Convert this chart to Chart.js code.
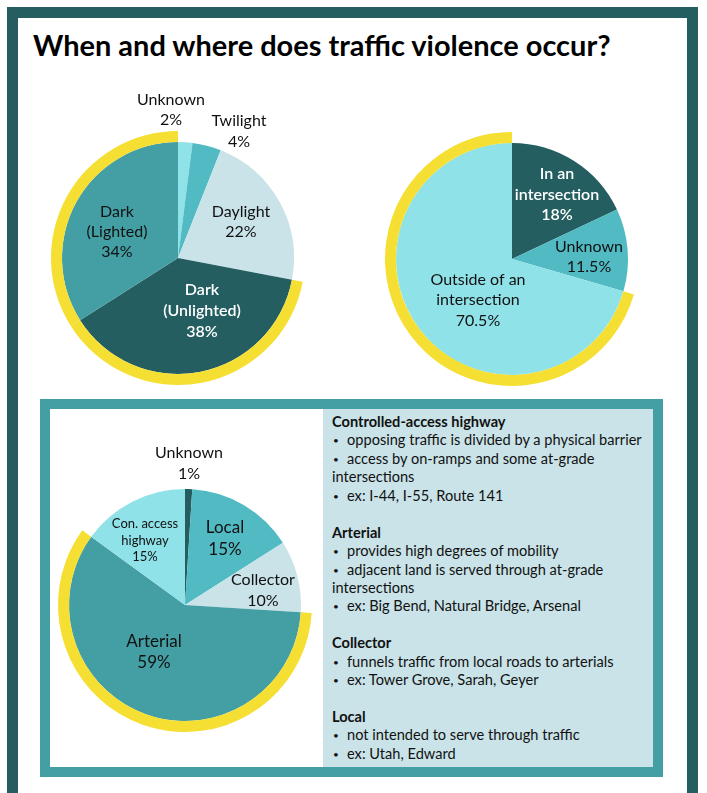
<!DOCTYPE html>
<html>
<head>
<meta charset="utf-8">
<script src="https://cdn.jsdelivr.net/npm/chart.js@4/dist/chart.umd.min.js"></script>
<style>
  html, body { margin: 0; padding: 0; background: #fff; width: 707px; height: 793px; overflow: hidden; }
  body { position: relative; font-family: Lato, "Open Sans", sans-serif; color: #111; }
  .frame { position: absolute; left: 7px; top: 7px; width: 669px; height: 820px; border: 11px solid #245E60; border-bottom: none; }
  .title { position: absolute; left: 33px; top: 30px; font-weight: bold; font-size: 28px; line-height: 28px; white-space: nowrap; color: #000; }
  .panel { position: absolute; left: 40px; top: 399px; width: 603px; height: 358px; border: 10px solid #449FA4; background: #fff; }
  .notes { position: absolute; left: 323px; top: 409px; width: 330px; height: 358px; background: #C9E3E8; }
  .txt { position: absolute; left: 332px; top: 413px; font-size: 14.6px; line-height: 18.44px; color: #111; white-space: nowrap; }
  .txt .h { font-weight: bold; }
  .txt .dot { display: inline-block; width: 14px; padding-left: 1px; font-size: 10px; vertical-align: 1px; }
  canvas { position: absolute; }
</style>
</head>
<body>
<div class="frame"></div>
<div class="title" id="title">When and where does traffic violence occur?</div>
<div class="panel"></div>
<div class="notes"></div>
<div class="txt">
  <div class="h">Controlled-access highway</div>
  <div><span class="dot">•</span>opposing traffic is divided by a physical barrier</div>
  <div><span class="dot">•</span>access by on-ramps and some at-grade</div>
  <div>intersections</div>
  <div><span class="dot">•</span>ex: I-44, I-55, Route 141</div>
  <div>&nbsp;</div>
  <div class="h">Arterial</div>
  <div><span class="dot">•</span>provides high degrees of mobility</div>
  <div><span class="dot">•</span>adjacent land is served through at-grade</div>
  <div>intersections</div>
  <div><span class="dot">•</span>ex: Big Bend, Natural Bridge, Arsenal</div>
  <div>&nbsp;</div>
  <div class="h">Collector</div>
  <div><span class="dot">•</span>funnels traffic from local roads to arterials</div>
  <div><span class="dot">•</span>ex: Tower Grove, Sarah, Geyer</div>
  <div>&nbsp;</div>
  <div class="h">Local</div>
  <div><span class="dot">•</span>not intended to serve through traffic</div>
  <div><span class="dot">•</span>ex: Utah, Edward</div>
</div>
<canvas id="c1" width="330" height="330" style="left:13px;top:93px"></canvas>
<canvas id="c2" width="330" height="330" style="left:347px;top:94px"></canvas>
<canvas id="c3" width="330" height="330" style="left:20px;top:440px"></canvas>
<script>
// ---------- DATA ----------
const lightCategories = ["Unknown", "Twilight", "Daylight", "Dark\n(Unlighted)", "Dark\n(Lighted)"];
const lightValues = [2, 4, 22, 38, 34];
const lightHighlight = [false, false, false, true, true];

const locationCategories = ["In an\nintersection", "Unknown", "Outside of an\nintersection"];
const locationValues = [18, 11.5, 70.5];
const locationHighlight = [false, false, true];

const roadCategories = ["Unknown", "Local", "Collector", "Arterial", "Con. access\nhighway"];
const roadValues = [1, 15, 10, 59, 15];
const roadHighlight = [false, false, false, true, false];

// ---------- STYLE ----------
const DARK = "#245E60", TEAL = "#449FA4", TURQ = "#51BAC2", CYAN = "#8FE2E8", PALE = "#C9E3E8", YELLOW = "#F5DF33";
const lightColors = [CYAN, TURQ, PALE, DARK, TEAL];
const locationColors = [DARK, TURQ, CYAN];
const roadColors = [DARK, TURQ, PALE, TEAL, CYAN];

// label offsets from pie centre (px), text colour, font
const lightLabelLayout = [
  {dx: -7, dy: -148.5, color: "#111", size: 16, lh: 20},
  {dx: 61, dy: -126.5, color: "#111", size: 16, lh: 21},
  {dx: 63, dy: -36, color: "#111", size: 16, lh: 20},
  {dx: 24, dy: 53, color: "#fff", size: 16, lh: 21, weight: 600},
  {dx: -61, dy: -26, color: "#111", size: 16, lh: 20}
];
const locationLabelLayout = [
  {dx: 45, dy: -64.5, color: "#fff", size: 16, lh: 20.5, weight: 600},
  {dx: 77, dy: -2, color: "#111", size: 16, lh: 20},
  {dx: -34, dy: 41, color: "#111", size: 16, lh: 20.5}
];
const roadLabelLayout = [
  {dx: 4, dy: -141.5, color: "#111", size: 16, lh: 21},
  {dx: 40, dy: -66, color: "#111", size: 17, lh: 22},
  {dx: 78, dy: -14.5, color: "#111", size: 16, lh: 21},
  {dx: -31, dy: 47.5, color: "#111", size: 17, lh: 21},
  {dx: -40, dy: -64.5, color: "#111", size: 13, lh: 16.5}
];

// fit title to reference width
(function(){
  const t = document.getElementById('title');
  const c = document.createElement('canvas').getContext('2d');
  c.font = 'bold 100px Lato';
  const w = c.measureText(t.textContent).width;
  const fs = 100 * 579 / w;
  t.style.fontSize = fs + 'px';
  t.style.lineHeight = fs + 'px';
  t.style.top = (57 - 0.887 * fs) + 'px';
})();

function fmt(v) { return v + '%'; }

const labelPlugin = {
  id: 'pieLabels',
  afterDatasetsDraw(chart) {
    const {ctx} = chart;
    const meta = chart.getDatasetMeta(1);
    const cats = chart.data.labels;
    const vals = chart.data.datasets[1].data;
    const layout = chart.options.plugins.pieLabels.layout;
    meta.data.forEach((arc, i) => {
      const L = layout[i];
      const lines = cats[i].split('\n').concat([fmt(vals[i])]);
      ctx.save();
      ctx.fillStyle = L.color;
      ctx.font = (L.weight || 400) + ' ' + L.size + 'px Lato, "Open Sans", sans-serif';
      ctx.textAlign = 'center';
      ctx.textBaseline = 'middle';
      const cx = arc.x + L.dx, cy = arc.y + L.dy;
      const n = lines.length;
      lines.forEach((s, k) => {
        ctx.fillText(s, cx, cy + (k - (n - 1) / 2) * L.lh);
      });
      ctx.restore();
    });
  }
};

function makePie(id, cats, vals, colors, highlight, layout) {
  return new Chart(document.getElementById(id), {
    type: 'pie',
    data: {
      labels: cats,
      datasets: [
        { data: vals, backgroundColor: highlight.map(h => h ? YELLOW : 'rgba(0,0,0,0)'), borderWidth: 0, weight: 11 },
        { data: vals, backgroundColor: colors, borderWidth: 0, weight: 116 }
      ]
    },
    options: {
      responsive: false,
      animation: false,
      events: [],
      radius: 127,
      layout: { padding: 0 },
      plugins: { legend: { display: false }, tooltip: { enabled: false }, pieLabels: { layout } }
    },
    plugins: [labelPlugin]
  });
}

makePie('c1', lightCategories, lightValues, lightColors, lightHighlight, lightLabelLayout);
makePie('c2', locationCategories, locationValues, locationColors, locationHighlight, locationLabelLayout);
makePie('c3', roadCategories, roadValues, roadColors, roadHighlight, roadLabelLayout);
</script>
</body>
</html>
